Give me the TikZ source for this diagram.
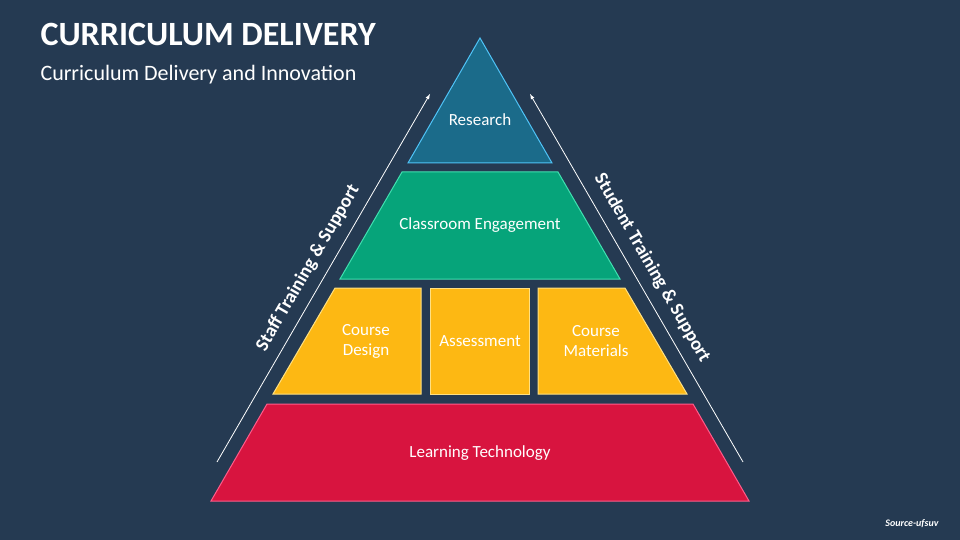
\documentclass[tikz,border=0pt]{standalone}
\usepackage{fontspec}
\setmainfont{Carlito}
\definecolor{bg}{HTML}{253A52}
\definecolor{tealf}{HTML}{1B6B8A}\definecolor{tealb}{HTML}{4FC3F7}
\definecolor{grf}{HTML}{06A47A}\definecolor{grb}{HTML}{40E0B0}
\definecolor{yef}{HTML}{FDB813}\definecolor{yeb}{HTML}{FFE082}
\definecolor{ref}{HTML}{D8143F}\definecolor{reb}{HTML}{FF5C8A}
\begin{document}
\begin{tikzpicture}[x=1pt,y=-1pt,
  lbl/.style={text=white,font=\fontsize{17}{20}\selectfont,align=center},
  side/.style={text=white,font=\bfseries\fontsize{19}{22}\selectfont},
  arr/.style={white,line width=0.8pt,-latex}]
\fill[bg] (0,0) rectangle (960,540);
\useasboundingbox (0,0) rectangle (960,540);
\node[anchor=base west,text=white,font=\bfseries\fontsize{34}{38}\selectfont] (t) at (37,46) {CURRICULUM DELIVERY};
\node[anchor=base west,text=white,font=\fontsize{22}{25}\selectfont] (s) at (37,81) {Curriculum Delivery and Innovation};
\node[anchor=base east,text=white,font=\bfseries\itshape\fontsize{10}{12}\selectfont] (src) at (942,526) {Source-ufsuv};
\draw[fill=tealf,draw=tealb,line width=1pt] (480,38)--(552,163)--(408,163)--cycle;
\draw[fill=grf,draw=grb,line width=1pt] (402,172)--(558,172)--(620,279)--(340,279)--cycle;
\draw[fill=yef,draw=yeb,line width=1pt] (335,288)--(421,288)--(421,394)--(273,394)--cycle;
\draw[fill=yef,draw=yeb,line width=1pt] (430,288) rectangle (529,394);
\draw[fill=yef,draw=yeb,line width=1pt] (538,288)--(625,288)--(687,394)--(538,394)--cycle;
\draw[fill=ref,draw=reb,line width=1pt] (267,404)--(693,404)--(749,501)--(211,501)--cycle;
\node[lbl] (r) at (480,120) {Research};
\node[lbl] (c) at (480,225) {Classroom Engagement};
\node[lbl] (cd) at (366,341) {Course\\Design};
\node[lbl] (as) at (480,341) {Assessment};
\node[lbl] (cm) at (596,341) {Course\\Materials};
\node[lbl] (lt) at (480,453) {Learning Technology};
\coordinate (la) at (217,462); \coordinate (lb) at (430,94);
\coordinate (ra) at (743,462); \coordinate (rb) at (530,94);
\draw[arr] (la)--(lb);
\draw[arr] (ra)--(rb);
\node[side,rotate=60] (st) at (308,268) {Staff Training \& Support};
\node[side,rotate=-60] (su) at (652,268) {Student Training \& Support};
\end{tikzpicture}
\end{document}
